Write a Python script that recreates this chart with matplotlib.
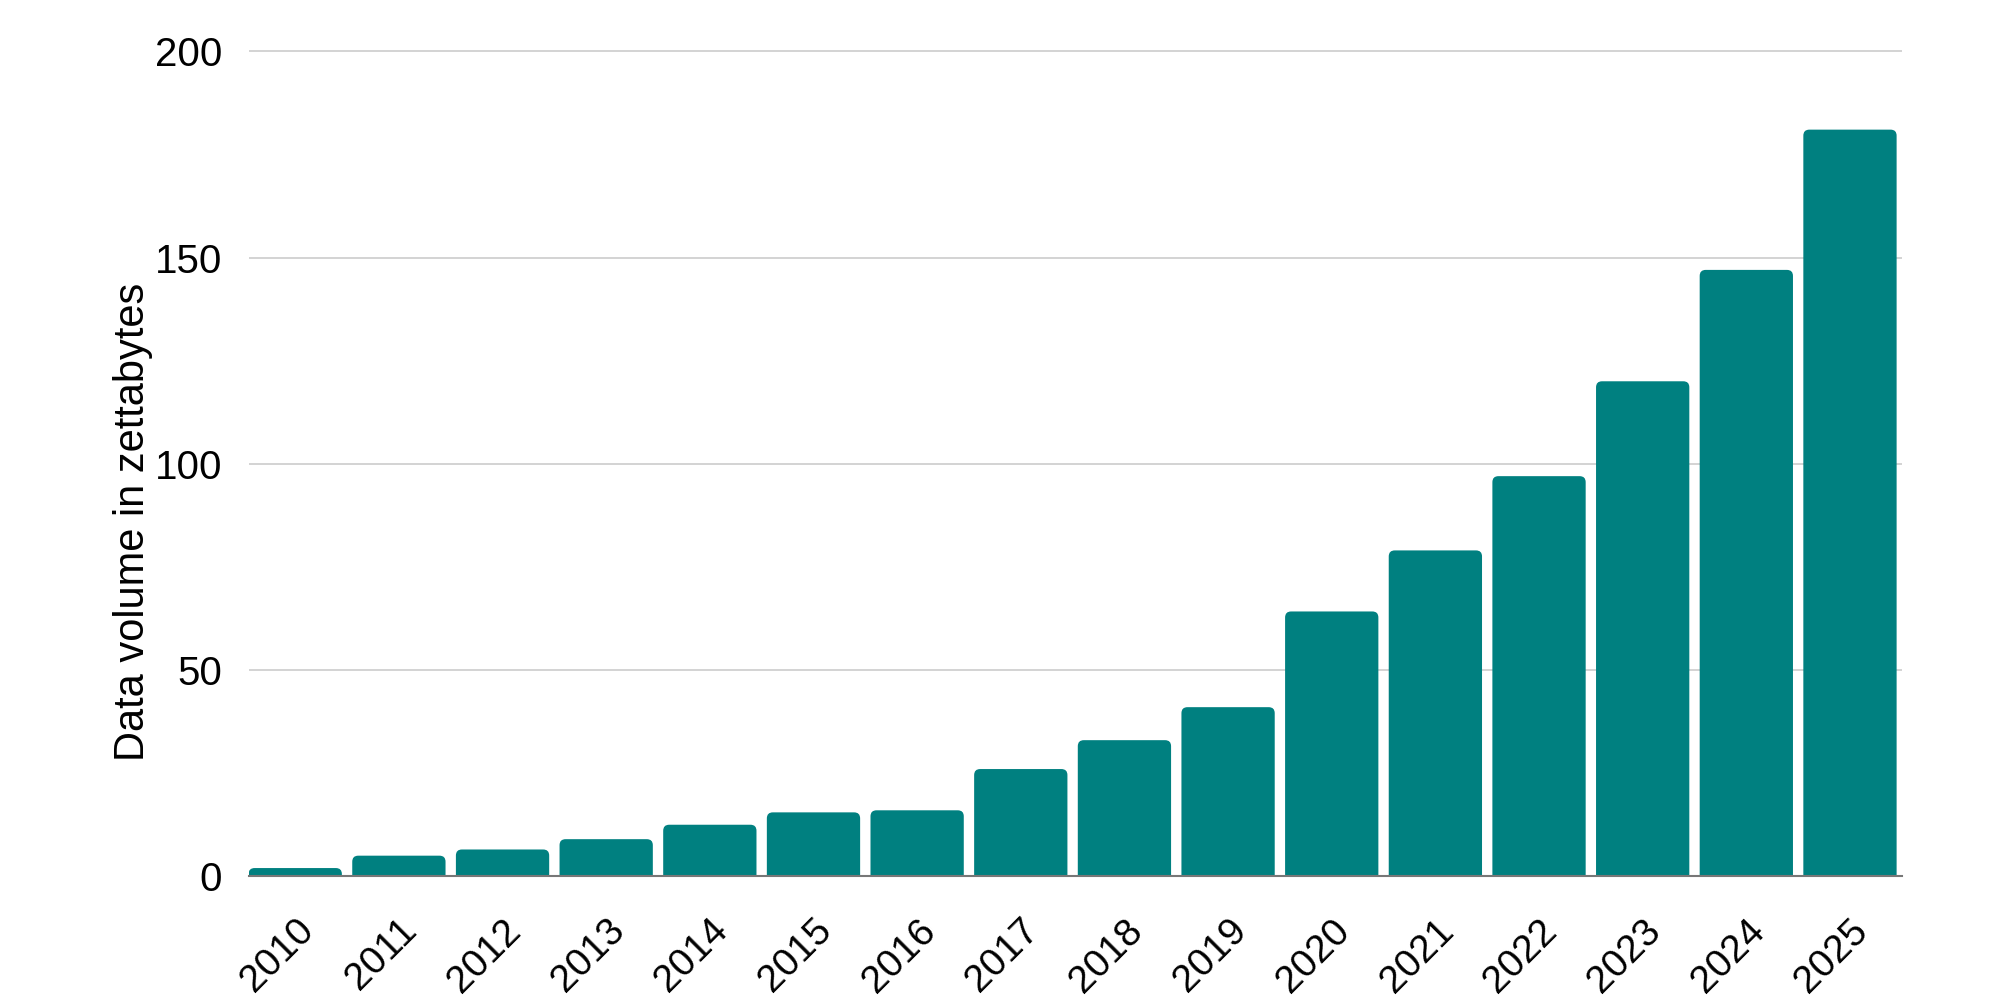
import matplotlib.pyplot as plt
from matplotlib.patches import FancyBboxPatch

plt.rcParams["font.family"] = ["Liberation Sans", "DejaVu Sans"]

years = [str(y) for y in range(2010, 2026)]
volume_zb = [2, 5, 6.5, 9, 12.5, 15.5, 16, 26, 33, 41, 64.2, 79, 97, 120, 147, 181]
y_ticks = [0, 50, 100, 150, 200]

BAR_COLOR = "#008080"

fig = plt.figure(figsize=(20, 10), dpi=100)
ax = fig.add_axes([0.1243, 0.1237, 0.8266, 0.8271])

bars = ax.bar(range(len(years)), volume_zb, width=0.9, color=BAR_COLOR)

# swap plain rectangles for ones with rounded top corners
px_x = 0.8266 * 2000 / 15.95
px_y = 0.8271 * 1000 / 200.5
r = 6 / px_x
for rect in bars:
    rect.set_visible(False)
    x, w, h = rect.get_x(), rect.get_width(), rect.get_height()
    patch = FancyBboxPatch((x, -3), w, h + 3,
                           boxstyle=f"round,pad=0,rounding_size={r}",
                           mutation_aspect=px_x / px_y,
                           facecolor=BAR_COLOR, edgecolor="none", zorder=2)
    ax.add_patch(patch)

ax.set_xlim(-0.45, 15.5)
ax.set_ylim(0, 200.5)
ax.set_yticks(y_ticks)
ax.set_xticks(range(len(years)))
ax.set_xticklabels(years, rotation=45, ha="right", rotation_mode="anchor")
ax.tick_params(axis="both", length=0)
ax.tick_params(axis="y", pad=19, labelsize=29)
ax.tick_params(axis="x", pad=26, labelsize=28)

ax.grid(axis="y", color="#cccccc", linewidth=1.2, zorder=0)
ax.set_axisbelow(True)
for side in ["top", "right", "left"]:
    ax.spines[side].set_visible(False)
ax.spines["bottom"].set_color("#777777")
ax.spines["bottom"].set_linewidth(1.5)
ax.spines["bottom"].set_zorder(3)

ax.set_ylabel("Data volume in zettabytes", fontsize=30)
ax.yaxis.set_label_coords(-0.058, 0.428)

fig.savefig("out.png", dpi=100)
